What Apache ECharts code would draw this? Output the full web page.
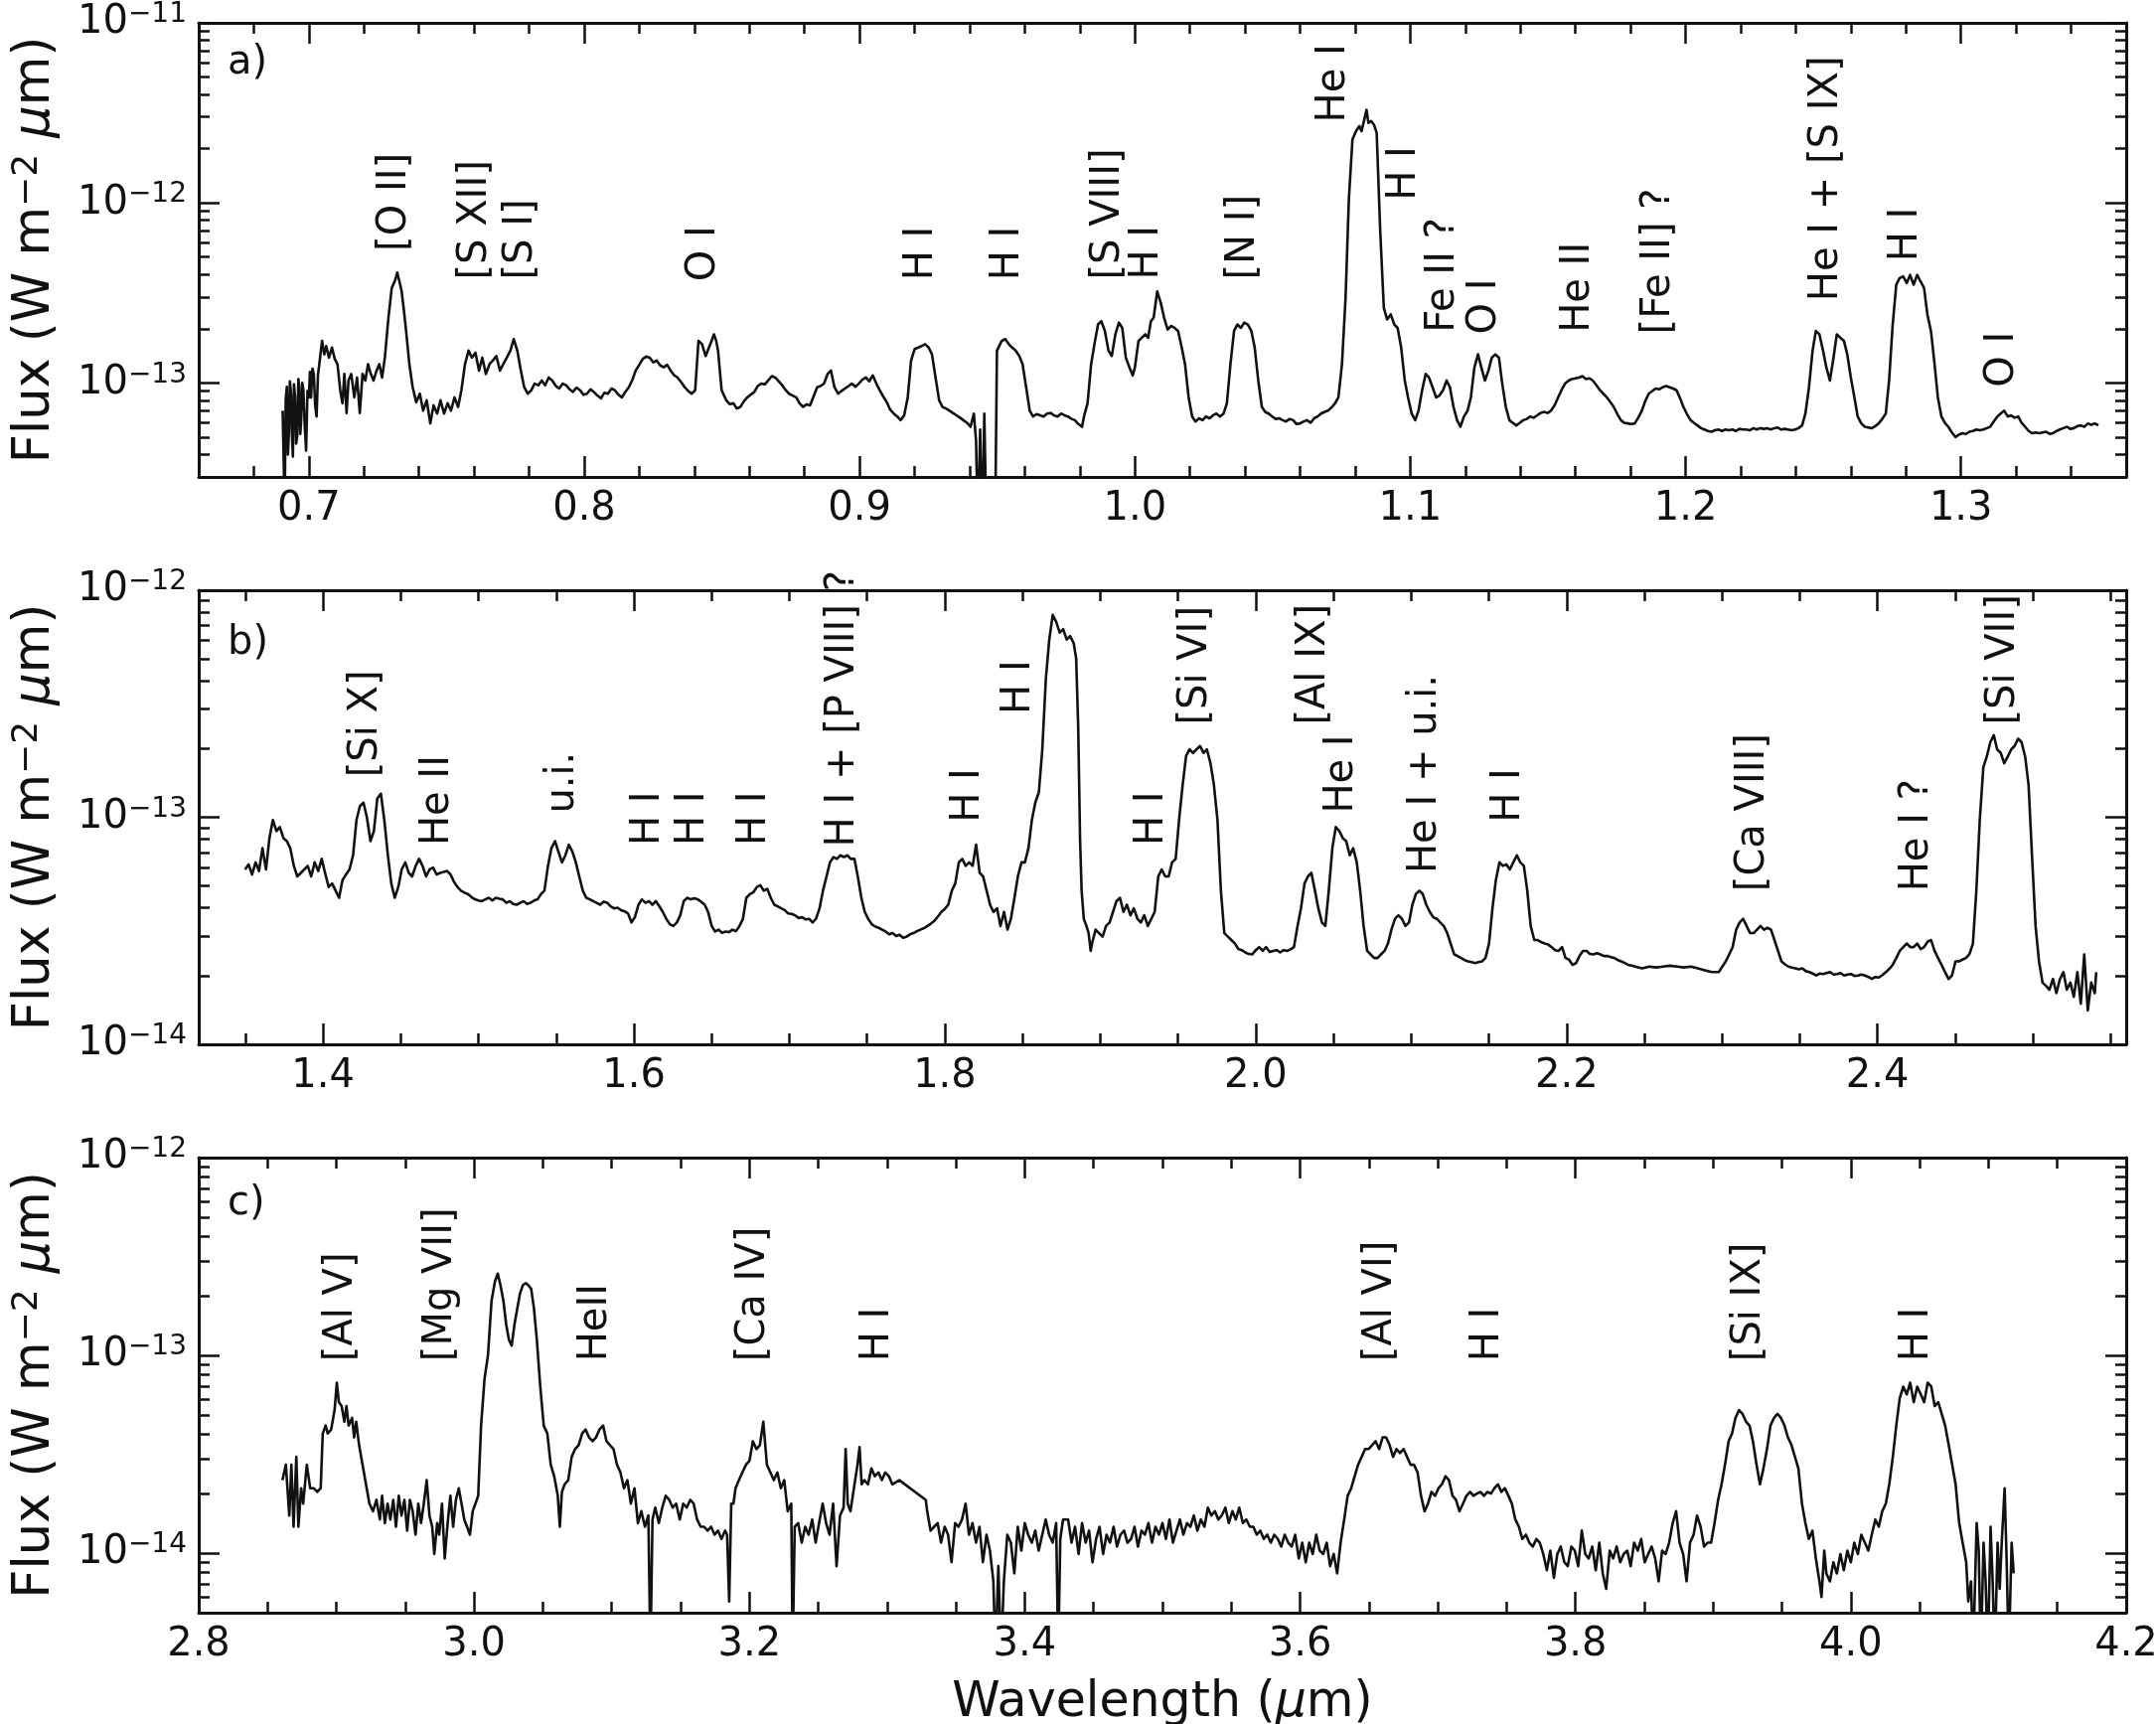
<!DOCTYPE html>
<html><head><meta charset="utf-8">
<script src="https://cdn.jsdelivr.net/npm/echarts@6/dist/echarts.min.js"></script>
<style>html,body{margin:0;padding:0;background:#fff}#chart{width:2170px;height:1735px}</style>
</head><body><div id="chart"></div>
<script>
// ---------------- DATA (flux in units of FLUX_UNIT W m^-2 um) ----------------
const FLUX_UNIT = 1e-14;

const panelA_spectrum = [[0.6905,7.0],[0.6912,2.0],[0.6916,8.0],[0.6920,9.5],[0.6924,4.0],[0.6928,5.5],[0.6931,10.2],[0.6935,8.8],[0.6939,5.0],[0.6942,3.9],[0.6946,9.8],[0.6950,8.3],[0.6954,4.6],[0.6958,5.1],[0.6962,10.5],[0.6965,9.4],[0.6969,5.2],[0.6972,6.2],[0.6976,10.0],[0.6980,9.2],[0.6985,5.8],[0.6990,4.2],[0.6995,9.0],[0.7000,8.3],[0.7004,11.5],[0.7008,8.3],[0.7013,12.0],[0.7018,11.2],[0.7023,7.5],[0.7028,6.5],[0.7033,11.0],[0.7038,12.7],[0.7048,17.1],[0.7056,14.4],[0.7063,16.0],[0.7073,13.8],[0.7084,15.7],[0.7094,13.6],[0.7104,12.7],[0.7114,9.1],[0.7122,7.7],[0.7129,11.2],[0.7137,6.8],[0.7144,10.3],[0.7154,11.2],[0.7165,8.3],[0.7175,10.7],[0.7185,6.8],[0.7195,11.2],[0.7205,10.3],[0.7215,12.7],[0.7225,11.2],[0.7235,10.3],[0.7246,11.7],[0.7256,12.7],[0.7266,10.7],[0.7276,13.8],[0.7289,23.0],[0.7301,33.6],[0.7314,37.4],[0.7321,41.0],[0.7329,36.6],[0.7337,32.2],[0.7344,26.2],[0.7352,20.2],[0.7365,12.7],[0.7377,9.45],[0.7390,7.8],[0.7403,8.7],[0.7415,7.0],[0.7428,8.0],[0.7441,5.95],[0.7453,7.5],[0.7466,6.75],[0.7478,8.0],[0.7491,6.75],[0.7504,7.7],[0.7516,7.0],[0.7529,8.3],[0.7542,7.35],[0.7554,9.1],[0.7567,12.7],[0.7580,15.1],[0.7592,13.8],[0.7605,14.7],[0.7618,11.7],[0.7630,13.8],[0.7643,11.2],[0.7656,12.7],[0.7668,13.3],[0.7681,14.1],[0.7694,11.7],[0.7706,12.7],[0.7719,13.8],[0.7732,15.1],[0.7744,17.5],[0.7757,15.1],[0.7770,11.7],[0.7782,9.45],[0.7795,8.7],[0.7808,9.1],[0.7820,9.9],[0.7833,9.7],[0.7846,10.3],[0.7858,9.7],[0.7871,10.7],[0.7884,10.3],[0.7897,9.6],[0.7909,9.3],[0.7922,9.9],[0.7934,9.7],[0.7947,9.2],[0.7959,8.9],[0.7972,9.4],[0.7985,9.1],[0.7997,8.6],[0.8010,8.7],[0.8023,9.2],[0.8035,8.9],[0.8048,8.5],[0.8061,8.2],[0.8073,8.8],[0.8086,8.7],[0.8099,9.3],[0.8111,9.1],[0.8124,8.6],[0.8137,8.3],[0.8149,8.9],[0.8162,9.45],[0.8175,10.4],[0.8187,11.7],[0.8200,12.6],[0.8213,13.6],[0.8225,14.0],[0.8238,13.8],[0.8251,13.0],[0.8263,13.3],[0.8276,12.5],[0.8289,12.2],[0.8301,12.6],[0.8314,11.7],[0.8327,11.0],[0.8339,10.7],[0.8352,10.1],[0.8365,9.45],[0.8378,9.0],[0.8390,8.7],[0.8403,9.1],[0.8415,17.1],[0.8428,16.4],[0.8441,14.1],[0.8453,15.7],[0.8462,17.0],[0.8471,18.6],[0.8479,17.2],[0.8486,15.1],[0.8499,9.1],[0.8516,8.0],[0.8529,7.6],[0.8542,7.7],[0.8554,7.2],[0.8567,7.35],[0.8580,7.9],[0.8592,8.3],[0.8605,8.6],[0.8618,8.9],[0.8630,9.6],[0.8643,9.9],[0.8656,9.8],[0.8668,10.3],[0.8681,10.9],[0.8694,10.7],[0.8706,10.2],[0.8719,9.7],[0.8732,9.1],[0.8744,8.7],[0.8757,8.5],[0.8770,8.3],[0.8782,7.7],[0.8795,7.35],[0.8808,7.6],[0.8820,7.5],[0.8833,8.4],[0.8846,9.45],[0.8858,9.6],[0.8871,9.9],[0.8884,11.2],[0.8896,11.7],[0.8909,9.45],[0.8922,8.7],[0.8934,9.0],[0.8947,9.3],[0.8960,9.6],[0.8972,9.9],[0.8985,9.5],[0.8997,9.9],[0.9010,10.4],[0.9023,10.7],[0.9035,10.2],[0.9048,11.0],[0.9061,9.9],[0.9073,9.1],[0.9086,8.4],[0.9099,7.8],[0.9111,7.1],[0.9124,6.75],[0.9137,6.5],[0.9149,6.2],[0.9162,6.6],[0.9175,8.3],[0.9187,13.3],[0.9200,15.4],[0.9213,15.7],[0.9225,16.0],[0.9238,16.4],[0.9251,15.7],[0.9263,14.4],[0.9276,10.7],[0.9289,8.0],[0.9301,7.35],[0.9314,7.2],[0.9327,7.0],[0.9339,6.8],[0.9352,6.6],[0.9365,6.4],[0.9377,6.2],[0.9390,6.0],[0.9403,5.7],[0.9415,6.75],[0.9423,4.8],[0.9430,1.5],[0.9438,5.5],[0.9446,1.5],[0.9453,6.75],[0.9461,1.5],[0.9475,1.0],[0.9491,1.0],[0.9499,15.1],[0.9516,17.1],[0.9529,17.5],[0.9542,16.4],[0.9554,15.7],[0.9567,15.1],[0.9580,14.1],[0.9592,12.7],[0.9605,9.45],[0.9618,7.0],[0.9630,6.5],[0.9643,6.7],[0.9656,6.6],[0.9668,6.5],[0.9681,6.75],[0.9694,6.8],[0.9706,6.6],[0.9719,6.5],[0.9732,6.75],[0.9744,6.6],[0.9757,6.5],[0.9770,6.3],[0.9782,6.2],[0.9795,5.9],[0.9808,5.7],[0.9815,6.5],[0.9828,7.7],[0.9841,12.7],[0.9853,16.4],[0.9866,21.1],[0.9878,22.0],[0.9891,19.4],[0.9904,15.1],[0.9916,14.1],[0.9929,18.6],[0.9942,21.6],[0.9954,20.2],[0.9967,13.8],[0.9980,12.2],[0.9992,11.0],[1.0000,12.2],[1.0013,17.1],[1.0025,17.8],[1.0038,18.6],[1.0048,17.8],[1.0058,22.0],[1.0068,23.0],[1.0081,32.2],[1.0094,27.8],[1.0106,23.0],[1.0119,19.8],[1.0132,20.7],[1.0144,20.2],[1.0157,19.4],[1.0170,15.7],[1.0182,12.7],[1.0195,8.3],[1.0208,6.5],[1.0220,6.1],[1.0233,6.35],[1.0246,6.2],[1.0258,6.5],[1.0271,6.35],[1.0284,6.6],[1.0296,6.75],[1.0309,6.5],[1.0322,6.75],[1.0334,7.7],[1.0347,12.7],[1.0360,19.4],[1.0372,21.1],[1.0385,20.2],[1.0397,21.6],[1.0410,21.1],[1.0423,19.4],[1.0435,15.7],[1.0448,10.3],[1.0461,7.35],[1.0473,6.9],[1.0486,6.75],[1.0499,6.5],[1.0511,6.3],[1.0524,6.35],[1.0537,6.2],[1.0549,6.1],[1.0562,6.3],[1.0575,6.2],[1.0587,5.9],[1.0600,5.95],[1.0613,6.1],[1.0625,6.2],[1.0638,6.0],[1.0651,6.35],[1.0663,6.5],[1.0676,6.75],[1.0689,6.9],[1.0701,7.0],[1.0714,7.3],[1.0727,7.7],[1.0739,8.3],[1.0752,12.7],[1.0765,29.6],[1.0777,105],[1.0790,225],[1.0803,250],[1.0815,267],[1.0823,250],[1.0833,290],[1.0841,329],[1.0848,278],[1.0858,285],[1.0868,272],[1.0878,245],[1.0891,69],[1.0904,26.1],[1.0916,22.5],[1.0929,24.0],[1.0942,21.1],[1.0954,20.2],[1.0967,15.7],[1.0980,10.3],[1.0992,8.3],[1.1005,6.75],[1.1018,6.2],[1.1030,7.0],[1.1043,9.1],[1.1056,11.2],[1.1068,10.7],[1.1081,9.45],[1.1094,8.3],[1.1106,8.5],[1.1119,9.1],[1.1132,10.3],[1.1144,9.45],[1.1157,7.35],[1.1170,6.2],[1.1182,5.7],[1.1195,6.5],[1.1208,7.0],[1.1220,8.3],[1.1233,12.2],[1.1246,14.4],[1.1258,12.2],[1.1271,10.3],[1.1284,11.7],[1.1296,13.8],[1.1309,14.4],[1.1322,13.8],[1.1334,9.9],[1.1347,7.35],[1.1360,6.2],[1.1372,6.0],[1.1385,5.8],[1.1398,6.0],[1.1410,6.2],[1.1423,6.3],[1.1435,6.5],[1.1448,6.4],[1.1461,6.6],[1.1473,6.8],[1.1486,6.9],[1.1499,6.8],[1.1511,7.0],[1.1524,7.5],[1.1537,8.3],[1.1549,9.1],[1.1562,9.9],[1.1575,10.3],[1.1587,10.5],[1.1600,10.6],[1.1613,10.7],[1.1625,10.9],[1.1638,10.5],[1.1651,10.6],[1.1663,10.3],[1.1676,9.7],[1.1689,9.1],[1.1701,8.7],[1.1714,8.3],[1.1727,7.8],[1.1739,7.35],[1.1752,6.7],[1.1765,6.2],[1.1777,6.0],[1.1790,5.95],[1.1803,5.9],[1.1815,5.95],[1.1828,6.4],[1.1841,7.0],[1.1853,7.9],[1.1866,8.7],[1.1879,9.0],[1.1891,9.3],[1.1904,9.2],[1.1916,9.45],[1.1929,9.6],[1.1942,9.45],[1.1954,9.3],[1.1967,9.1],[1.1980,8.2],[1.1992,7.35],[1.2005,6.7],[1.2018,6.2],[1.2030,6.0],[1.2043,5.8],[1.2056,5.6],[1.2068,5.5],[1.2081,5.4],[1.2094,5.35],[1.2106,5.45],[1.2119,5.5],[1.2132,5.4],[1.2145,5.5],[1.2157,5.45],[1.2170,5.5],[1.2183,5.4],[1.2195,5.55],[1.2208,5.5],[1.2220,5.5],[1.2233,5.45],[1.2246,5.6],[1.2258,5.5],[1.2271,5.6],[1.2284,5.55],[1.2296,5.6],[1.2309,5.5],[1.2322,5.6],[1.2334,5.65],[1.2347,5.5],[1.2360,5.55],[1.2372,5.5],[1.2385,5.45],[1.2397,5.5],[1.2410,5.6],[1.2423,5.8],[1.2435,6.75],[1.2448,9.45],[1.2461,15.1],[1.2473,19.4],[1.2486,18.6],[1.2499,15.1],[1.2511,12.2],[1.2524,10.3],[1.2537,13.8],[1.2549,18.6],[1.2562,17.8],[1.2575,17.1],[1.2587,14.4],[1.2600,10.7],[1.2613,8.3],[1.2625,6.5],[1.2638,5.95],[1.2651,5.7],[1.2663,5.65],[1.2676,5.6],[1.2689,5.75],[1.2701,5.95],[1.2714,6.3],[1.2727,6.75],[1.2739,10.3],[1.2752,21.1],[1.2765,35.1],[1.2777,38.2],[1.2790,39.0],[1.2803,35.8],[1.2815,39.8],[1.2828,35.1],[1.2841,39.8],[1.2853,36.6],[1.2866,33.6],[1.2878,24.0],[1.2891,19.4],[1.2904,12.7],[1.2916,8.3],[1.2929,6.5],[1.2941,6.0],[1.2954,5.7],[1.2967,5.3],[1.2980,5.0],[1.2992,5.15],[1.3005,5.25],[1.3018,5.2],[1.3030,5.35],[1.3043,5.4],[1.3056,5.5],[1.3068,5.45],[1.3081,5.5],[1.3094,5.6],[1.3106,5.7],[1.3119,6.1],[1.3132,6.5],[1.3144,6.75],[1.3157,7.0],[1.3170,6.5],[1.3182,6.6],[1.3195,6.4],[1.3208,6.5],[1.3220,6.0],[1.3233,5.7],[1.3246,5.4],[1.3258,5.25],[1.3271,5.3],[1.3284,5.25],[1.3296,5.3],[1.3309,5.35],[1.3322,5.2],[1.3334,5.25],[1.3347,5.4],[1.3359,5.5],[1.3372,5.6],[1.3385,5.7],[1.3397,5.55],[1.3410,5.6],[1.3423,5.75],[1.3435,5.8],[1.3448,5.7],[1.3461,5.95],[1.3473,5.85],[1.3486,5.95],[1.3499,5.8]];

const panelB_spectrum = [[1.3498,5.89],[1.3521,6.2],[1.3543,5.6],[1.3566,6.33],[1.3588,5.8],[1.3610,7.31],[1.3633,5.89],[1.3655,8.1],[1.3677,9.73],[1.3700,8.7],[1.3722,9.06],[1.3745,8.1],[1.3767,7.85],[1.3789,7.31],[1.3812,6.11],[1.3834,5.49],[1.3857,5.69],[1.3879,5.89],[1.3901,6.11],[1.3924,5.49],[1.3946,6.33],[1.3969,5.8],[1.3991,6.56],[1.4013,5.69],[1.4036,4.93],[1.4058,5.11],[1.4081,4.75],[1.4103,4.42],[1.4125,5.29],[1.4148,5.6],[1.4170,5.89],[1.4193,6.8],[1.4215,9.73],[1.4237,11.2],[1.4260,11.6],[1.4282,10.0],[1.4305,7.85],[1.4327,8.7],[1.4349,12.1],[1.4372,12.7],[1.4394,9.73],[1.4417,6.8],[1.4439,5.11],[1.4461,4.42],[1.4484,4.93],[1.4506,5.89],[1.4529,6.33],[1.4551,5.69],[1.4573,5.49],[1.4596,6.11],[1.4618,6.56],[1.4640,6.11],[1.4663,5.49],[1.4685,5.89],[1.4708,6.0],[1.4730,5.6],[1.4753,5.69],[1.4775,5.75],[1.4797,5.8],[1.4820,5.6],[1.4842,5.2],[1.4865,4.93],[1.4887,4.75],[1.4910,4.65],[1.4932,4.59],[1.4955,4.45],[1.4977,4.35],[1.5000,4.3],[1.5021,4.27],[1.5044,4.35],[1.5066,4.42],[1.5089,4.3],[1.5111,4.42],[1.5134,4.38],[1.5156,4.35],[1.5179,4.2],[1.5201,4.27],[1.5223,4.15],[1.5245,4.12],[1.5268,4.2],[1.5290,4.27],[1.5313,4.15],[1.5335,4.2],[1.5358,4.3],[1.5380,4.35],[1.5402,4.59],[1.5424,4.75],[1.5447,6.11],[1.5469,7.31],[1.5492,7.85],[1.5514,7.05],[1.5537,6.33],[1.5559,6.8],[1.5581,7.57],[1.5604,7.05],[1.5626,6.33],[1.5648,5.49],[1.5671,4.75],[1.5693,4.42],[1.5716,4.35],[1.5738,4.27],[1.5760,4.2],[1.5783,4.12],[1.5805,4.25],[1.5828,4.2],[1.5850,4.05],[1.5872,3.97],[1.5895,4.0],[1.5917,3.9],[1.5940,3.85],[1.5962,3.77],[1.5984,3.44],[1.6006,3.63],[1.6029,4.12],[1.6051,4.35],[1.6074,4.2],[1.6096,4.27],[1.6119,4.12],[1.6141,4.27],[1.6164,4.05],[1.6186,3.83],[1.6208,3.57],[1.6231,3.38],[1.6253,3.32],[1.6276,3.44],[1.6298,3.70],[1.6320,4.27],[1.6343,4.42],[1.6365,4.35],[1.6388,4.4],[1.6410,4.35],[1.6432,4.25],[1.6455,4.12],[1.6477,3.83],[1.6500,3.32],[1.6522,3.14],[1.6544,3.20],[1.6567,3.1],[1.6589,3.14],[1.6611,3.12],[1.6634,3.20],[1.6656,3.15],[1.6679,3.32],[1.6701,3.57],[1.6723,4.42],[1.6746,4.59],[1.6768,4.67],[1.6791,4.93],[1.6813,5.02],[1.6835,4.75],[1.6858,4.84],[1.6880,4.42],[1.6903,4.12],[1.6925,4.05],[1.6947,3.97],[1.6970,3.9],[1.6992,3.77],[1.7015,3.75],[1.7037,3.70],[1.7060,3.6],[1.7082,3.63],[1.7105,3.55],[1.7127,3.57],[1.7149,3.44],[1.7171,3.57],[1.7194,3.97],[1.7216,4.75],[1.7239,5.49],[1.7261,6.33],[1.7284,6.68],[1.7306,6.56],[1.7328,6.8],[1.7351,6.68],[1.7373,6.8],[1.7395,6.56],[1.7418,6.56],[1.7440,5.49],[1.7463,4.42],[1.7485,3.83],[1.7507,3.57],[1.7530,3.38],[1.7552,3.3],[1.7575,3.26],[1.7597,3.2],[1.7619,3.14],[1.7642,3.05],[1.7664,3.09],[1.7687,3.0],[1.7709,3.04],[1.7731,2.95],[1.7754,2.98],[1.7776,3.05],[1.7798,3.09],[1.7821,3.15],[1.7843,3.20],[1.7866,3.25],[1.7888,3.32],[1.7910,3.4],[1.7933,3.50],[1.7955,3.65],[1.7978,3.83],[1.8000,3.95],[1.8022,4.12],[1.8045,4.75],[1.8067,5.11],[1.8090,6.33],[1.8112,6.56],[1.8134,6.11],[1.8157,6.33],[1.8179,6.11],[1.8201,7.57],[1.8224,5.69],[1.8246,5.49],[1.8269,4.75],[1.8291,4.12],[1.8313,3.83],[1.8336,3.97],[1.8358,3.32],[1.8381,3.83],[1.8403,3.20],[1.8425,3.57],[1.8448,4.42],[1.8470,5.49],[1.8493,6.33],[1.8515,6.33],[1.8538,7.31],[1.8560,9.73],[1.8582,11.6],[1.8605,12.9],[1.8627,19.9],[1.8650,40.8],[1.8672,60.6],[1.8694,77.8],[1.8717,72.4],[1.8739,65.1],[1.8761,67.4],[1.8784,60.6],[1.8806,62.8],[1.8829,58.4],[1.8845,50.0],[1.8858,25.0],[1.8870,8.0],[1.8880,4.75],[1.8894,3.57],[1.8911,3.32],[1.8925,3.09],[1.8938,2.58],[1.8947,2.78],[1.8970,3.20],[1.8992,3.09],[1.9015,2.98],[1.9037,3.32],[1.9060,3.44],[1.9082,3.83],[1.9104,4.27],[1.9127,4.42],[1.9149,3.83],[1.9171,4.12],[1.9194,3.70],[1.9216,3.97],[1.9239,3.57],[1.9261,3.44],[1.9283,3.70],[1.9306,3.32],[1.9328,3.57],[1.9350,3.83],[1.9373,5.49],[1.9395,5.89],[1.9418,5.49],[1.9440,5.49],[1.9462,6.33],[1.9485,6.56],[1.9507,9.73],[1.9530,13.9],[1.9552,18.6],[1.9574,19.9],[1.9597,19.2],[1.9619,19.9],[1.9642,20.6],[1.9664,19.2],[1.9686,19.9],[1.9709,17.3],[1.9731,13.9],[1.9754,9.73],[1.9776,4.75],[1.9798,3.09],[1.9821,2.98],[1.9843,2.88],[1.9866,2.78],[1.9888,2.63],[1.9910,2.6],[1.9933,2.54],[1.9955,2.5],[1.9978,2.49],[2.0000,2.6],[2.0022,2.68],[2.0045,2.58],[2.0067,2.68],[2.0090,2.55],[2.0112,2.58],[2.0135,2.6],[2.0157,2.54],[2.0180,2.6],[2.0202,2.58],[2.0224,2.62],[2.0246,2.68],[2.0269,3.32],[2.0291,3.97],[2.0314,5.11],[2.0336,5.49],[2.0358,5.69],[2.0381,4.75],[2.0403,3.97],[2.0426,3.44],[2.0448,3.32],[2.0470,4.75],[2.0493,7.31],[2.0515,9.06],[2.0538,8.7],[2.0560,8.1],[2.0582,7.85],[2.0605,6.8],[2.0627,7.31],[2.0650,6.33],[2.0672,4.75],[2.0694,3.32],[2.0717,2.58],[2.0739,2.49],[2.0762,2.40],[2.0784,2.40],[2.0806,2.49],[2.0829,2.58],[2.0851,2.78],[2.0873,3.20],[2.0896,3.57],[2.0918,3.70],[2.0941,3.57],[2.0963,3.32],[2.0986,3.44],[2.1008,4.12],[2.1030,4.59],[2.1053,4.75],[2.1075,4.59],[2.1097,4.12],[2.1120,3.83],[2.1142,3.63],[2.1165,3.57],[2.1187,3.44],[2.1210,3.32],[2.1232,3.09],[2.1254,2.78],[2.1277,2.49],[2.1299,2.45],[2.1321,2.40],[2.1344,2.35],[2.1366,2.32],[2.1389,2.3],[2.1411,2.28],[2.1433,2.3],[2.1456,2.32],[2.1478,2.40],[2.1501,2.78],[2.1523,3.97],[2.1545,5.29],[2.1568,6.33],[2.1590,6.11],[2.1613,6.2],[2.1635,5.89],[2.1657,6.33],[2.1680,6.8],[2.1702,6.33],[2.1725,6.11],[2.1747,4.75],[2.1769,3.32],[2.1792,2.88],[2.1814,2.88],[2.1837,2.82],[2.1859,2.78],[2.1882,2.75],[2.1904,2.68],[2.1926,2.6],[2.1949,2.58],[2.1971,2.68],[2.1993,2.40],[2.2016,2.36],[2.2038,2.24],[2.2061,2.28],[2.2083,2.45],[2.2105,2.58],[2.2128,2.58],[2.2150,2.5],[2.2172,2.49],[2.2195,2.52],[2.2217,2.49],[2.2240,2.45],[2.2262,2.45],[2.2285,2.42],[2.2307,2.40],[2.2330,2.35],[2.2352,2.32],[2.2374,2.28],[2.2396,2.24],[2.2419,2.22],[2.2441,2.2],[2.2464,2.18],[2.2486,2.16],[2.2508,2.18],[2.2531,2.2],[2.2576,2.18],[2.2620,2.2],[2.2665,2.22],[2.2710,2.2],[2.2755,2.18],[2.2800,2.2],[2.2844,2.16],[2.2889,2.12],[2.2934,2.08],[2.2979,2.08],[2.3024,2.32],[2.3046,2.49],[2.3068,2.68],[2.3091,3.20],[2.3113,3.44],[2.3136,3.57],[2.3158,3.32],[2.3180,3.09],[2.3203,3.09],[2.3225,3.20],[2.3247,3.32],[2.3270,3.20],[2.3292,3.26],[2.3315,3.20],[2.3337,2.88],[2.3360,2.58],[2.3382,2.32],[2.3405,2.25],[2.3427,2.2],[2.3449,2.18],[2.3471,2.16],[2.3494,2.14],[2.3516,2.16],[2.3539,2.1],[2.3561,2.08],[2.3583,2.05],[2.3606,2.01],[2.3628,2.05],[2.3651,2.04],[2.3673,2.06],[2.3695,2.08],[2.3718,2.03],[2.3740,2.04],[2.3763,2.06],[2.3785,2.01],[2.3808,2.03],[2.3830,2.04],[2.3853,2.0],[2.3875,2.01],[2.3897,2.03],[2.3919,2.01],[2.3942,1.98],[2.3964,1.94],[2.3987,1.98],[2.4009,1.97],[2.4032,2.02],[2.4054,2.08],[2.4076,2.15],[2.4098,2.24],[2.4121,2.40],[2.4143,2.58],[2.4166,2.68],[2.4188,2.78],[2.4211,2.68],[2.4233,2.68],[2.4255,2.78],[2.4278,2.63],[2.4300,2.68],[2.4322,2.83],[2.4345,2.88],[2.4367,2.58],[2.4390,2.40],[2.4412,2.24],[2.4435,2.08],[2.4457,1.94],[2.4479,2.01],[2.4502,2.32],[2.4524,2.32],[2.4546,2.36],[2.4569,2.40],[2.4591,2.49],[2.4614,2.78],[2.4636,4.75],[2.4658,9.73],[2.4681,16.6],[2.4703,18.5],[2.4726,21.4],[2.4748,23.0],[2.4770,19.9],[2.4793,19.2],[2.4815,17.3],[2.4838,18.5],[2.4860,19.9],[2.4882,20.6],[2.4905,22.2],[2.4927,21.4],[2.4950,18.5],[2.4972,13.9],[2.4994,6.8],[2.5017,3.32],[2.5039,2.32],[2.5062,1.87],[2.5084,1.81],[2.5106,1.74],[2.5129,1.94],[2.5151,1.68],[2.5174,1.94],[2.5196,2.08],[2.5218,1.74],[2.5241,1.87],[2.5263,1.62],[2.5286,2.08],[2.5308,1.51],[2.5330,2.49],[2.5353,1.41],[2.5375,1.87],[2.5398,1.68],[2.5407,2.08]];

const panelC_spectrum = [[2.8608,2.34],[2.8633,2.80],[2.8658,1.55],[2.8673,2.80],[2.8689,1.36],[2.8709,3.07],[2.8724,1.36],[2.8744,2.13],[2.8759,1.78],[2.8785,2.80],[2.8810,2.13],[2.8835,2.13],[2.8861,2.04],[2.8886,2.13],[2.8901,4.03],[2.8922,4.42],[2.8937,4.03],[2.8962,4.22],[2.8987,5.29],[2.9003,7.28],[2.9018,5.80],[2.9038,5.54],[2.9058,4.62],[2.9073,5.54],[2.9089,4.42],[2.9114,4.83],[2.9129,3.85],[2.9144,4.62],[2.9165,3.52],[2.9190,2.80],[2.9215,2.23],[2.9240,1.78],[2.9266,1.63],[2.9291,1.86],[2.9316,1.48],[2.9332,1.95],[2.9352,1.42],[2.9372,1.78],[2.9392,1.48],[2.9413,1.86],[2.9433,1.36],[2.9453,1.95],[2.9473,1.55],[2.9494,1.86],[2.9514,1.30],[2.9534,1.86],[2.9554,1.63],[2.9575,1.24],[2.9595,1.78],[2.9615,1.42],[2.9635,1.78],[2.9656,2.34],[2.9676,1.55],[2.9696,1.36],[2.9711,0.99],[2.9732,1.42],[2.9747,1.24],[2.9767,1.78],[2.9787,0.94],[2.9808,1.42],[2.9828,1.95],[2.9848,1.36],[2.9868,1.86],[2.9889,2.13],[2.9909,1.78],[2.9929,1.48],[2.9949,1.36],[2.9970,1.24],[2.9990,1.63],[3.0010,1.78],[3.0030,1.95],[3.0051,4.42],[3.0076,7.62],[3.0101,10.0],[3.0127,18.9],[3.0152,23.7],[3.0172,25.9],[3.0192,22.6],[3.0213,18.9],[3.0233,14.4],[3.0253,12.0],[3.0273,11.2],[3.0294,14.4],[3.0314,17.3],[3.0334,20.6],[3.0354,22.6],[3.0375,23.2],[3.0395,22.6],[3.0415,21.7],[3.0435,17.3],[3.0456,12.0],[3.0481,6.95],[3.0506,4.42],[3.0532,4.03],[3.0557,2.80],[3.0582,2.45],[3.0608,1.95],[3.0623,1.36],[3.0638,2.04],[3.0658,2.23],[3.0684,2.34],[3.0709,3.07],[3.0734,3.36],[3.0760,3.52],[3.0785,4.03],[3.0810,4.22],[3.0835,3.85],[3.0861,3.68],[3.0886,3.85],[3.0911,4.22],[3.0937,4.42],[3.0962,3.68],[3.0987,3.52],[3.1013,3.36],[3.1038,2.80],[3.1063,2.56],[3.1089,2.13],[3.1114,2.34],[3.1139,1.78],[3.1165,2.13],[3.1190,1.42],[3.1215,1.63],[3.1241,1.36],[3.1266,1.55],[3.1281,0.3],[3.1296,1.48],[3.1316,1.70],[3.1342,1.42],[3.1367,1.70],[3.1392,1.95],[3.1418,1.86],[3.1443,1.70],[3.1468,1.78],[3.1494,1.48],[3.1519,1.78],[3.1544,1.70],[3.1570,1.86],[3.1595,1.78],[3.1620,1.48],[3.1646,1.36],[3.1671,1.36],[3.1696,1.30],[3.1722,1.36],[3.1747,1.24],[3.1772,1.30],[3.1797,1.18],[3.1823,1.30],[3.1838,1.24],[3.1853,0.57],[3.1868,1.78],[3.1884,1.78],[3.1899,2.13],[3.1924,2.34],[3.1949,2.56],[3.1975,2.80],[3.2000,2.93],[3.2025,3.68],[3.2051,3.36],[3.2076,3.52],[3.2101,4.62],[3.2127,2.80],[3.2152,2.56],[3.2177,2.34],[3.2203,2.56],[3.2228,2.13],[3.2253,2.34],[3.2278,1.63],[3.2304,1.78],[3.2314,0.3],[3.2329,1.36],[3.2354,1.42],[3.2380,1.13],[3.2405,1.36],[3.2430,1.24],[3.2456,1.48],[3.2481,1.13],[3.2506,1.42],[3.2532,1.78],[3.2557,1.42],[3.2582,1.24],[3.2608,1.78],[3.2633,0.86],[3.2658,1.55],[3.2684,1.70],[3.2699,3.36],[3.2714,1.78],[3.2734,1.63],[3.2759,2.13],[3.2785,2.80],[3.2800,3.44],[3.2815,2.23],[3.2835,2.34],[3.2861,2.23],[3.2886,2.68],[3.2911,2.45],[3.2937,2.56],[3.2962,2.34],[3.2987,2.56],[3.3013,2.45],[3.3038,2.23],[3.3089,2.34],[3.3281,1.86],[3.3291,1.63],[3.3316,1.30],[3.3342,1.36],[3.3367,1.42],[3.3392,1.13],[3.3418,1.36],[3.3443,1.24],[3.3468,0.90],[3.3494,1.42],[3.3519,1.36],[3.3544,1.48],[3.3570,1.78],[3.3595,1.24],[3.3620,1.42],[3.3646,1.13],[3.3671,1.36],[3.3696,0.90],[3.3722,1.24],[3.3747,1.03],[3.3772,0.72],[3.3787,0.3],[3.3808,0.86],[3.3828,0.3],[3.3848,0.72],[3.3873,1.24],[3.3899,1.13],[3.3924,0.79],[3.3949,1.36],[3.3975,1.03],[3.4000,1.42],[3.4025,1.24],[3.4051,1.13],[3.4076,1.30],[3.4101,1.03],[3.4127,1.24],[3.4152,1.48],[3.4177,1.24],[3.4203,1.13],[3.4228,1.42],[3.4243,0.3],[3.4258,1.18],[3.4278,1.48],[3.4315,1.48],[3.4340,1.13],[3.4365,1.36],[3.4391,0.99],[3.4416,1.42],[3.4442,1.13],[3.4467,1.30],[3.4492,0.90],[3.4518,1.18],[3.4543,1.36],[3.4569,0.99],[3.4594,1.24],[3.4619,1.13],[3.4645,1.36],[3.4670,1.08],[3.4695,1.24],[3.4721,1.30],[3.4746,1.13],[3.4772,1.18],[3.4797,1.36],[3.4822,1.08],[3.4848,1.30],[3.4873,1.24],[3.4898,1.42],[3.4924,1.13],[3.4949,1.36],[3.4975,1.24],[3.5000,1.42],[3.5025,1.18],[3.5051,1.48],[3.5076,1.13],[3.5102,1.30],[3.5127,1.48],[3.5152,1.24],[3.5178,1.42],[3.5203,1.36],[3.5228,1.55],[3.5254,1.30],[3.5279,1.48],[3.5305,1.36],[3.5330,1.70],[3.5355,1.55],[3.5381,1.63],[3.5406,1.48],[3.5431,1.55],[3.5457,1.70],[3.5482,1.42],[3.5508,1.63],[3.5533,1.48],[3.5558,1.70],[3.5584,1.42],[3.5609,1.48],[3.5635,1.36],[3.5660,1.36],[3.5685,1.24],[3.5711,1.30],[3.5736,1.18],[3.5761,1.24],[3.5787,1.13],[3.5812,1.24],[3.5838,1.18],[3.5863,1.08],[3.5888,1.24],[3.5914,1.13],[3.5939,1.08],[3.5964,1.24],[3.5990,0.94],[3.6015,1.13],[3.6041,0.90],[3.6066,1.13],[3.6091,0.99],[3.6117,1.24],[3.6142,1.03],[3.6168,0.99],[3.6193,1.13],[3.6218,0.86],[3.6244,0.99],[3.6269,0.79],[3.6294,1.13],[3.6320,1.48],[3.6345,1.95],[3.6371,2.13],[3.6396,2.45],[3.6421,2.80],[3.6447,3.07],[3.6472,3.36],[3.6497,3.36],[3.6523,3.52],[3.6548,3.68],[3.6574,3.36],[3.6599,3.85],[3.6624,3.85],[3.6650,3.52],[3.6675,3.07],[3.6700,3.36],[3.6726,3.21],[3.6751,3.36],[3.6777,3.07],[3.6802,2.80],[3.6827,2.80],[3.6853,2.56],[3.6878,1.95],[3.6904,1.63],[3.6929,1.78],[3.6954,2.04],[3.6980,1.95],[3.7005,2.13],[3.7030,2.23],[3.7056,2.45],[3.7081,2.34],[3.7107,1.95],[3.7132,1.86],[3.7157,1.63],[3.7183,1.78],[3.7208,1.95],[3.7234,2.04],[3.7259,1.95],[3.7284,2.0],[3.7310,2.04],[3.7335,1.95],[3.7360,2.04],[3.7386,2.0],[3.7411,2.13],[3.7437,2.23],[3.7462,2.04],[3.7487,2.13],[3.7513,1.95],[3.7538,1.78],[3.7563,1.48],[3.7589,1.36],[3.7614,1.18],[3.7640,1.24],[3.7665,1.13],[3.7690,1.08],[3.7716,1.18],[3.7741,1.13],[3.7766,0.99],[3.7792,0.82],[3.7817,1.03],[3.7843,0.75],[3.7868,0.99],[3.7893,1.08],[3.7919,0.90],[3.7944,0.86],[3.7970,1.08],[3.7995,1.03],[3.8020,0.86],[3.8046,1.30],[3.8071,0.99],[3.8096,0.94],[3.8122,1.08],[3.8147,0.82],[3.8173,1.13],[3.8198,0.79],[3.8223,0.66],[3.8249,1.03],[3.8274,0.94],[3.8299,1.08],[3.8325,0.90],[3.8350,0.99],[3.8376,1.03],[3.8401,0.86],[3.8426,1.13],[3.8452,1.03],[3.8477,1.18],[3.8503,0.90],[3.8528,0.99],[3.8553,1.08],[3.8579,0.94],[3.8604,0.72],[3.8629,1.03],[3.8655,0.99],[3.8680,1.13],[3.8706,1.42],[3.8731,1.63],[3.8756,1.13],[3.8782,0.99],[3.8807,0.72],[3.8832,1.13],[3.8858,1.24],[3.8883,1.55],[3.8909,1.36],[3.8934,1.08],[3.8959,1.13],[3.8985,1.13],[3.9010,1.42],[3.9036,1.86],[3.9061,2.23],[3.9086,2.80],[3.9112,3.68],[3.9137,4.03],[3.9162,4.83],[3.9188,5.29],[3.9213,5.06],[3.9239,4.62],[3.9264,4.42],[3.9289,3.68],[3.9315,2.80],[3.9340,2.23],[3.9365,2.68],[3.9391,3.36],[3.9416,4.42],[3.9442,4.83],[3.9467,5.06],[3.9492,4.83],[3.9518,4.42],[3.9543,3.85],[3.9569,3.52],[3.9594,3.07],[3.9619,2.68],[3.9645,1.78],[3.9670,1.42],[3.9695,1.18],[3.9721,1.30],[3.9746,0.94],[3.9772,0.72],[3.9787,0.60],[3.9807,1.03],[3.9822,0.79],[3.9848,0.72],[3.9873,0.90],[3.9898,0.79],[3.9924,0.99],[3.9949,0.82],[3.9975,1.03],[4.0000,0.90],[4.0025,1.13],[4.0051,0.99],[4.0076,1.24],[4.0102,1.13],[4.0127,1.03],[4.0152,1.24],[4.0178,1.48],[4.0203,1.36],[4.0228,1.63],[4.0254,1.78],[4.0279,2.23],[4.0305,3.07],[4.0330,4.42],[4.0355,6.07],[4.0381,6.95],[4.0406,6.35],[4.0431,7.28],[4.0457,5.80],[4.0482,6.95],[4.0508,6.35],[4.0533,5.80],[4.0558,7.28],[4.0584,6.95],[4.0609,5.54],[4.0635,5.80],[4.0660,5.06],[4.0685,4.42],[4.0711,3.52],[4.0736,2.80],[4.0761,2.23],[4.0787,1.42],[4.0812,1.13],[4.0838,0.90],[4.0853,0.57],[4.0873,0.72],[4.0888,0.3],[4.0914,1.42],[4.0929,1.03],[4.0944,0.3],[4.0964,1.13],[4.0979,0.72],[4.0995,0.3],[4.1015,1.36],[4.1030,0.72],[4.1046,0.3],[4.1066,1.13],[4.1081,0.66],[4.1096,1.13],[4.1117,2.13],[4.1132,0.90],[4.1147,0.3],[4.1168,1.13],[4.1183,0.79]];

// line identifications: [text, wavelength (um), flux level of label start (FLUX_UNIT)]
const panelA_lines = [['[O II]',0.7314,53.8],['[S XII]',0.7605,37.4],['[S I]',0.7771,37.4],['O I',0.8435,36.6],['H I',0.9225,37.0],['H I',0.9539,37.0],['[S VIII]',0.9904,37.4],['H I',1.0043,37.4],['[N I]',1.0393,37.4],['He I',1.0722,279],['H I',1.0980,103],['Fe II ?',1.1120,19.0],['O I',1.1270,18.6],['He II',1.1612,19.0],['[Fe II] ?',1.1904,18.6],['He I + [S IX]',1.2512,28.4],['H I',1.2802,47.2],['O I',1.3151,9.46]];
const panelB_lines = [['[Si X]',1.4276,15.0],['He II',1.4737,7.5],['u.i.',1.5545,10.4],['H I',1.6092,7.5],['H I',1.6383,7.5],['H I',1.6777,7.5],['H I + [P VIII] ?',1.7347,7.4],['H I',1.8154,9.48],['H I',1.8477,28.4],['H I',1.9335,7.5],['[Si VI]',1.9613,25.5],['[Al IX]',2.0375,25.5],['He I',2.0554,10.4],['He I + u.i.',2.1093,5.66],['H I',2.1631,9.48],['[Ca VIII]',2.3200,4.71],['He I ?',2.4254,4.71],['[Si VII]',2.4813,25.5]];
const panelC_lines = [['[Al V]',2.9037,9.31],['[Mg VII]',2.9758,9.31],['HeII',3.0885,9.31],['[Ca IV]',3.2034,9.31],['H I',3.2934,9.31],['[Al VI]',3.6582,9.31],['H I',3.7366,9.31],['[Si IX]',3.9264,9.31],['H I',4.0480,9.31]];

// axis limits and ticks
const panelA_xRange = [0.66, 1.36];
const panelB_xRange = [1.32, 2.56];
const panelC_xRange = [2.8, 4.2];
const panelA_yRange = [3e-14, 1e-11];
const panelB_yRange = [1e-14, 1e-12];
const panelC_yRange = [5e-15, 1e-12];

const panelA_xMajor = [0.7,0.8,0.9,1.0,1.1,1.2,1.3];
const panelA_xMinor = [0.68,0.72,0.74,0.76,0.78,0.82,0.84,0.86,0.88,0.92,0.94,0.96,0.98,1.02,1.04,1.06,1.08,1.12,1.14,1.16,1.18,1.22,1.24,1.26,1.28,1.32,1.34];
const panelB_xMajor = [1.4,1.6,1.8,2.0,2.2,2.4];
const panelB_xMinor = [1.35,1.45,1.5,1.55,1.65,1.7,1.75,1.85,1.9,1.95,2.05,2.1,2.15,2.25,2.3,2.35,2.45,2.5,2.55];
const panelC_xMajor = [2.8,3.0,3.2,3.4,3.6,3.8,4.0,4.2];
const panelC_xMinor = [2.85,2.9,2.95,3.05,3.1,3.15,3.25,3.3,3.35,3.45,3.5,3.55,3.65,3.7,3.75,3.85,3.9,3.95,4.05,4.1,4.15];

const panelA_yMajor = [1e-13,1e-12,1e-11];
const panelA_yMinor = [4e-14,5e-14,6e-14,7e-14,8e-14,9e-14,2e-13,3e-13,4e-13,5e-13,6e-13,7e-13,8e-13,9e-13,2e-12,3e-12,4e-12,5e-12,6e-12,7e-12,8e-12,9e-12];
const panelB_yMajor = [1e-14,1e-13,1e-12];
const panelB_yMinor = [2e-14,3e-14,4e-14,5e-14,6e-14,7e-14,8e-14,9e-14,2e-13,3e-13,4e-13,5e-13,6e-13,7e-13,8e-13,9e-13];
const panelC_yMajor = [1e-14,1e-13,1e-12];
const panelC_yMinor = [6e-15,7e-15,8e-15,9e-15,2e-14,3e-14,4e-14,5e-14,6e-14,7e-14,8e-14,9e-14,2e-13,3e-13,4e-13,5e-13,6e-13,7e-13,8e-13,9e-13];

const panelTags = ['a)','b)','c)'];
const yAxisTitle = 'Flux (W m{sup|\u22122} {it|\u03bc}m)';
const xAxisTitle = 'Wavelength ({it|\u03bc}m)';

// ---------------- CHART ----------------
const FONT = 'DejaVu Sans';
const INK = '#111111';

const panels = [
  {spec: panelA_spectrum, lines: panelA_lines, xr: panelA_xRange, yr: panelA_yRange, xMa: panelA_xMajor, xMi: panelA_xMinor, yMa: panelA_yMajor, yMi: panelA_yMinor, box: {top: 23, height: 457}, tagTop: 44},
  {spec: panelB_spectrum, lines: panelB_lines, xr: panelB_xRange, yr: panelB_yRange, xMa: panelB_xMajor, xMi: panelB_xMinor, yMa: panelB_yMajor, yMi: panelB_yMinor, box: {top: 594, height: 457}, tagTop: 628},
  {spec: panelC_spectrum, lines: panelC_lines, xr: panelC_xRange, yr: panelC_yRange, xMa: panelC_xMajor, xMi: panelC_xMinor, yMa: panelC_yMajor, yMi: panelC_yMinor, box: {top: 1165, height: 458}, tagTop: 1192}
];

const tickMajor = (vals) => ({show: true, inside: true, length: 21, lineStyle: {color: INK, width: 2.5}, customValues: vals});
const tickMinor = (vals) => ({show: true, inside: true, length: 11, lineStyle: {color: INK, width: 2.5}, customValues: vals});
const frameLine = {show: true, onZero: false, lineStyle: {color: INK, width: 3}};
const noLine = {show: false, onZero: false};

const option = {animation: false, backgroundColor: '#ffffff', grid: [], xAxis: [], yAxis: [], series: [], title: []};

panels.forEach((p, g) => {
  option.grid.push({left: 200, width: 1940, top: p.box.top, height: p.box.height, containLabel: false, outerBoundsMode: 'none'});
  option.title.push({text: panelTags[g], left: 229, top: p.tagTop, padding: 0, textStyle: {fontSize: 40, fontWeight: 'normal', fontFamily: FONT, color: INK}});

  const xb = {gridIndex: g, type: 'value', min: p.xr[0], max: p.xr[1], splitLine: {show: false}, axisPointer: {show: false}};
  const xMain = Object.assign({}, xb, {
    position: 'bottom', axisLine: frameLine, axisTick: tickMajor(p.xMa),
    axisLabel: {show: true, customValues: p.xMa, margin: 13, fontSize: 40, fontFamily: FONT, color: INK, formatter: v => v.toFixed(1)}
  });
  if (g === 2) {
    Object.assign(xMain, {name: xAxisTitle, nameLocation: 'middle', nameGap: 67,
      nameTextStyle: {fontSize: 49, fontFamily: FONT, color: INK,
        rich: {it: {fontSize: 49, fontStyle: 'italic', fontFamily: FONT, color: INK}}}});
  }
  option.xAxis.push(xMain);
  option.xAxis.push(Object.assign({}, xb, {position: 'bottom', axisLine: noLine, axisTick: tickMinor(p.xMi), axisLabel: {show: false}}));
  option.xAxis.push(Object.assign({}, xb, {position: 'top', axisLine: frameLine, axisTick: tickMajor(p.xMa), axisLabel: {show: false}}));
  option.xAxis.push(Object.assign({}, xb, {position: 'top', axisLine: noLine, axisTick: tickMinor(p.xMi), axisLabel: {show: false}}));

  const yb = {gridIndex: g, type: 'log', logBase: 10, min: p.yr[0], max: p.yr[1], splitLine: {show: false}, axisPointer: {show: false}};
  option.yAxis.push(Object.assign({}, yb, {
    position: 'left', axisLine: frameLine, axisTick: tickMajor(p.yMa),
    axisLabel: {show: true, customValues: p.yMa, margin: 12, fontFamily: FONT, color: INK,
      formatter: v => '{b|10}{s|\u2212' + Math.abs(Math.round(Math.log10(v))) + '}',
      rich: {b: {fontSize: 40, fontFamily: FONT, color: INK, lineHeight: 44}, s: {fontSize: 28, fontFamily: FONT, color: INK, verticalAlign: 'top', lineHeight: 30}}},
    name: yAxisTitle, nameLocation: 'middle', nameRotate: 90, nameGap: 139,
    nameTextStyle: {fontSize: 51, fontFamily: FONT, color: INK,
      rich: {sup: {fontSize: 36, fontFamily: FONT, color: INK, verticalAlign: 'top'},
             it: {fontSize: 51, fontStyle: 'italic', fontFamily: FONT, color: INK}}}
  }));
  option.yAxis.push(Object.assign({}, yb, {position: 'left', axisLine: noLine, axisTick: tickMinor(p.yMi), axisLabel: {show: false}}));
  option.yAxis.push(Object.assign({}, yb, {position: 'right', axisLine: frameLine, axisTick: tickMajor(p.yMa), axisLabel: {show: false}}));
  option.yAxis.push(Object.assign({}, yb, {position: 'right', axisLine: noLine, axisTick: tickMinor(p.yMi), axisLabel: {show: false}}));

  option.series.push({
    type: 'line', xAxisIndex: 4 * g, yAxisIndex: 4 * g,
    data: p.spec.map(([w, f]) => [w, f * FLUX_UNIT]),
    showSymbol: false, symbol: 'none', clip: true, silent: true,
    lineStyle: {color: INK, width: 2.6, join: 'round', opacity: 1}
  });
  option.series.push({
    type: 'scatter', xAxisIndex: 4 * g, yAxisIndex: 4 * g, silent: true, clip: false,
    symbolSize: 1, itemStyle: {color: 'transparent', opacity: 1},
    data: p.lines.map(([t, w, f]) => ({name: t, value: [w, f * FLUX_UNIT]})),
    label: {show: true, formatter: '{b}', position: 'inside', align: 'left', verticalAlign: 'middle', rotate: 90,
      fontSize: 40, fontFamily: FONT, color: INK, opacity: 1, textBorderWidth: 0}
  });
});

const chart = echarts.init(document.getElementById('chart'), null, {renderer: 'canvas', width: 2170, height: 1735});
chart.setOption(option);
</script></body></html>
